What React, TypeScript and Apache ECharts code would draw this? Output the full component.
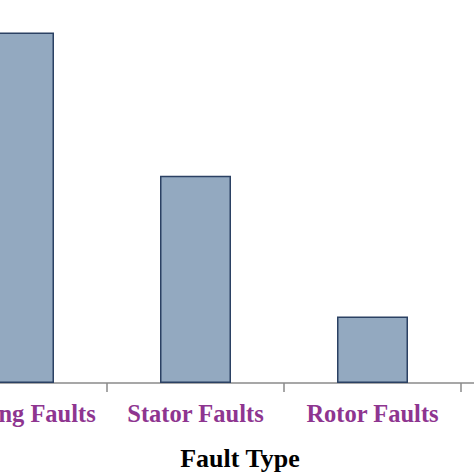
import { useEffect, useRef } from 'react';
import * as echarts from 'echarts';

// fault categories and their share (y axis is cropped out of view in the reference)
const categories = ['Bearing Faults', 'Stator Faults', 'Rotor Faults', 'Others'];
const faultShares = [43.8, 25.9, 8.3, 12];

export default function App() {
  const chartRef = useRef<HTMLDivElement>(null);

  useEffect(() => {
    if (!chartRef.current) return;
    const chart = echarts.init(chartRef.current, null, { renderer: 'svg' });

    const option = {
      animation: false,
      backgroundColor: '#ffffff',
      grid: {
        left: 100,
        right: 92,
        top: 23,
        bottom: 91,
        containLabel: false,
        outerBoundsMode: 'none'
      },
      xAxis: {
        type: 'category',
        data: categories,
        name: 'Fault Type',
        nameLocation: 'middle',
        nameGap: 62,
        nameTextStyle: {
          fontFamily: 'Liberation Serif, Times New Roman, serif',
          fontWeight: 'bold',
          fontSize: 26,
          color: '#000000',
          padding: [0, 88, 0, 0]
        },
        axisLine: { lineStyle: { color: '#8a8a8a', width: 1.5 } },
        axisTick: { show: true, interval: 0, length: 9, lineStyle: { color: '#8a8a8a', width: 1.5 } },
        axisLabel: {
          interval: 0,
          // the last category sits off-screen, its label is left blank
          formatter: (value: string, index: number) => (index < 3 ? value : ''),
          margin: 18,
          fontFamily: 'Liberation Serif, Times New Roman, serif',
          fontWeight: 'bold',
          fontSize: 24.5,
          color: '#8e3590'
        }
      },
      yAxis: {
        type: 'value',
        min: 0,
        max: 45,
        show: false
      },
      series: [
        {
          type: 'bar',
          data: faultShares,
          barWidth: 71,
          itemStyle: {
            color: '#93a9c0',
            borderColor: '#2b4163',
            borderWidth: 1.5
          }
        }
      ]
    };

    chart.setOption(option);

    return () => {
      chart.dispose();
    };
  }, []);

  // the chart is wider than the window: the y axis and the last category sit off-screen
  return (
    <div
      ref={chartRef}
      style={{ position: 'fixed', left: '-170px', top: 0, width: '900px', height: '474px' }}
    />
  );
}
